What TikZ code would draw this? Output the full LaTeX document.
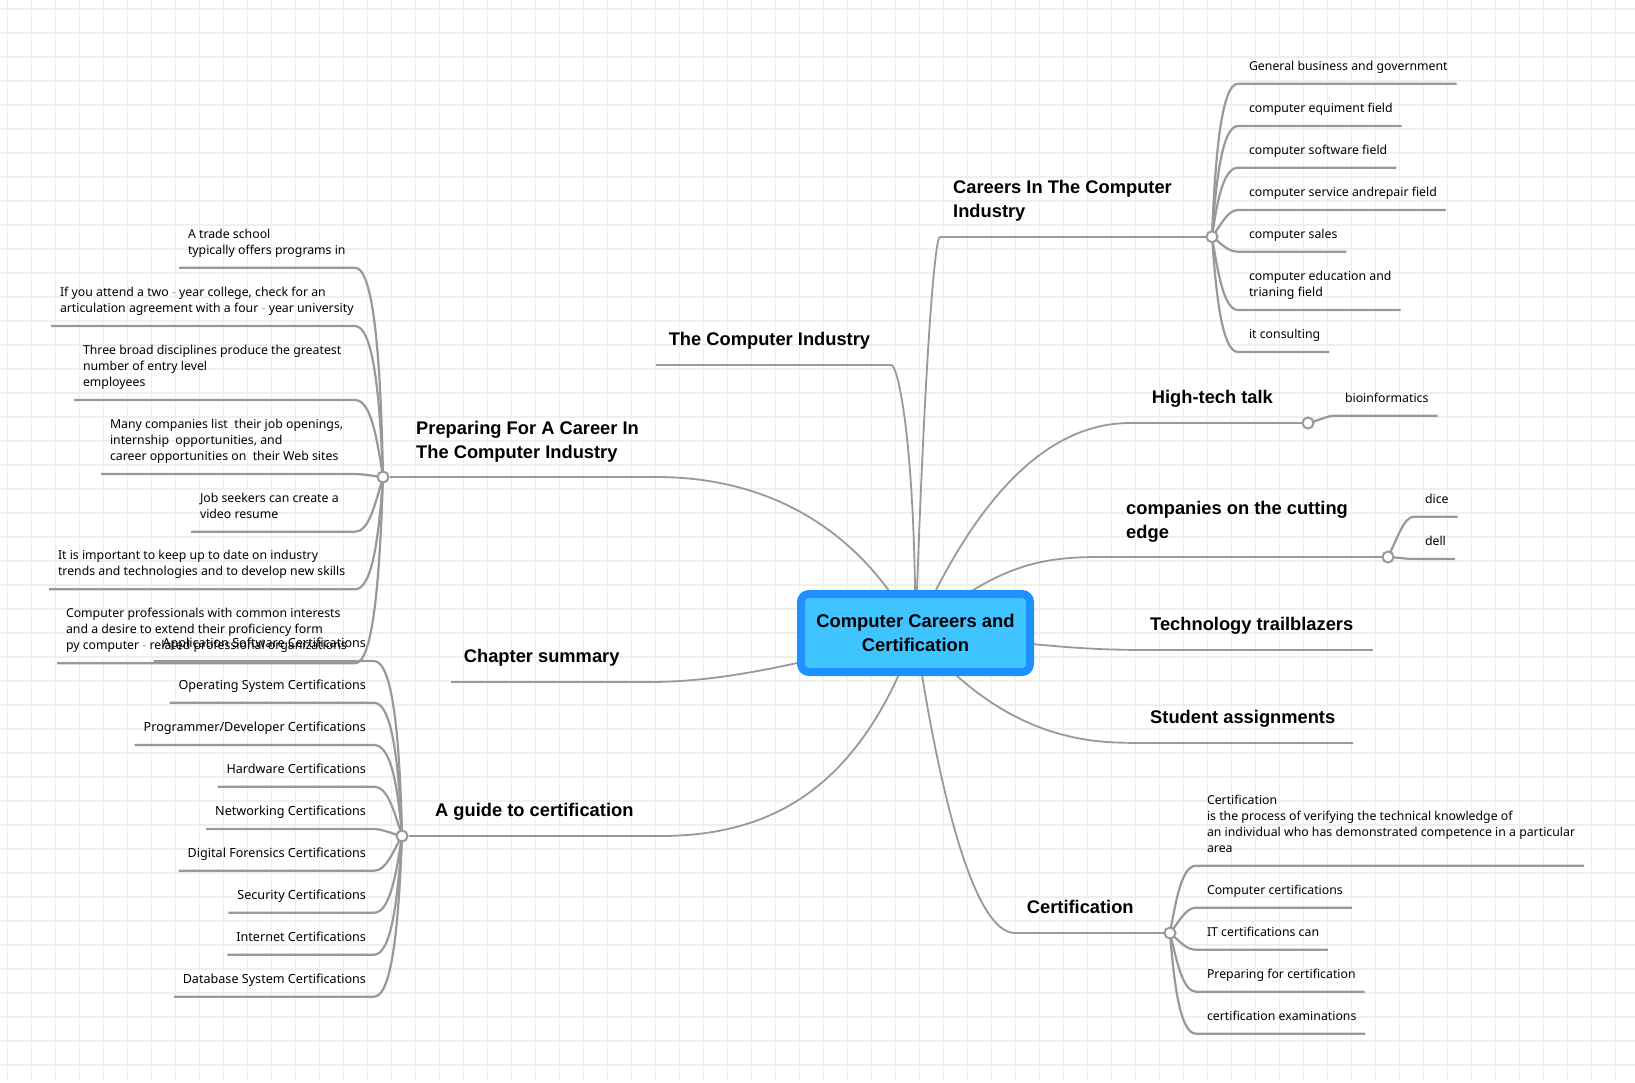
\documentclass[tikz,border=0pt]{standalone}
\usepackage{fontspec}
\setmainfont{Noto Sans}
\newfontfamily\titlefont{Liberation Sans}[BoldFont={Liberation Sans Bold}]
\usetikzlibrary{calc,backgrounds}
\definecolor{branchgray}{HTML}{999999}
\definecolor{gridgreen}{HTML}{EEF1E8}
\definecolor{rootfill}{HTML}{40C4FF}
\definecolor{rootline}{HTML}{1E90FF}
\tikzset{
  root/.style={draw=rootline, fill=rootfill, line width=8pt, rounded corners=8pt,
    minimum width=229pt, minimum height=78pt, inner sep=0pt, align=center,
    font=\titlefont\bfseries\fontsize{18.4}{24}\selectfont},
  title/.style={anchor=south west, inner sep=0pt, align=left, text depth=19.5pt,
    font=\titlefont\bfseries\fontsize{18.3}{24}\selectfont},
  titletwo/.style={title, text depth=18.6pt},
  leaf/.style={anchor=south west, inner xsep=9pt, inner ysep=0pt, outer sep=0pt, align=left,
    text depth=13.5pt, font=\fontsize{12.3}{16}\selectfont},
  leafl/.style={leaf, anchor=south east, font=\fontsize{12.6}{16}\selectfont},
  hub/.style={circle, draw=branchgray, fill=white, line width=2pt, minimum size=11pt, inner sep=0pt},
  branch/.style={draw=branchgray, line width=1.8pt},
  under/.style={draw=branchgray, line width=2.2pt},
  twig/.style={draw=branchgray, line width=2.2pt}
}
\newcommand{\dash}{\textcolor{black!40}{-}}
\newcommand{\twigr}[3][4]{\draw[twig] (#2.center) .. controls ($(#2.center)!0.5!(#2.center |- #3.south west)+(#1,0)$) and ($(#2.center |- #3.south west)+(#1+6,0)$) .. ($(#2.center |- #3.south west)+(26,0)$) -- (#3.south east);}
\newcommand{\twigl}[3][4]{\draw[twig] (#2.center) .. controls ($(#2.center)!0.5!(#2.center |- #3.south west)+(-#1,0)$) and ($(#2.center |- #3.south west)+(-#1-6,0)$) .. ($(#2.center |- #3.south west)+(-28,0)$) -- (#3.south west);}
\begin{document}
\begin{tikzpicture}[x=1pt, y=-1pt]
  \useasboundingbox (0,0) rectangle (1635,1082);

  \node[root] (root) at (915.5, 633) {Computer Careers and\\Certification};

  % right side
  \node[titletwo] (careers) at (953, 236.7) {Careers In The Computer\\Industry};
  \node[title] (hightech) at (1151.7, 423) {High-tech talk};
  \node[titletwo] (companies) at (1126, 557) {companies on the cutting\\edge};
  \node[title] (tech) at (1150, 649.7) {Technology trailblazers};
  \node[title] (student) at (1150, 742.7) {Student assignments};
  \node[title] (cert) at (1026.7, 933) {Certification};

  % left side
  \node[title] (industry) at (668.6, 364.7) {The Computer Industry};
  \node[titletwo] (prep) at (416, 477) {Preparing For A Career In\\The Computer Industry};
  \node[title] (summary) at (463.7, 682) {Chapter summary};
  \node[title] (guide) at (435, 836) {A guide to certification};

  \node[hub] (careershub) at (1212, 236.7) {};
  \node[hub] (hightechhub) at (1308, 423) {};
  \node[hub] (companieshub) at (1388, 557) {};
  \node[hub] (certhub) at (1170, 933) {};
  \node[hub] (prephub) at (383, 477) {};
  \node[hub] (guidehub) at (402, 836) {};

  \coordinate (careers0) at (940, 236.7);
  \coordinate (hightech0) at (1130, 423);
  \coordinate (companies0) at (1100, 557);
  \coordinate (tech0) at (1126.7, 649.7);
  \coordinate (tech1) at (1372.7, 649.7);
  \coordinate (student0) at (1126.7, 742.7);
  \coordinate (student1) at (1353.3, 742.7);
  \coordinate (cert0) at (1015, 933);
  \coordinate (industry0) at (891, 364.7);
  \coordinate (industry1) at (656, 364.7);
  \coordinate (prep0) at (656.7, 477);
  \coordinate (summary0) at (650, 682);
  \coordinate (summary1) at (451, 682);
  \coordinate (guide0) at (660, 836);

  \node[leaf] (business) at (1240, 83.7) {General business and government};
  \node[leaf] (equiment) at (1240, 126) {computer equiment field};
  \node[leaf] (software) at (1240, 167.7) {computer software field};
  \node[leaf] (service) at (1240, 210) {computer service andrepair field};
  \node[leaf] (sales) at (1240, 251.7) {computer sales};
  \node[leaf] (education) at (1240, 310) {computer education and\\trianing field};
  \node[leaf] (consulting) at (1240, 352) {it consulting};

  \node[leaf] (bio) at (1336, 415.7) {bioinformatics};
  \node[leaf] (dice) at (1416, 516.7) {dice};
  \node[leaf] (dell) at (1416, 559) {dell};

  \node[leaf] (process) at (1198, 865.7) {Certification\\is the process of verifying the technical knowledge of\\an individual who has demonstrated competence in a particular\\area};
  \node[leaf] (computercert) at (1198, 907.7) {Computer certifications};
  \node[leaf] (itcert) at (1198, 949.7) {IT certifications can};
  \node[leaf] (prepcert) at (1198, 991.7) {Preparing for certification};
  \node[leaf] (exams) at (1198, 1033.7) {certification examinations};

  \node[leaf] (trade) at (179, 267.7) {A trade school\\typically offers programs in};
  \node[leaf] (college) at (51, 326) {If you attend a two \dash{} year college, check for an\\articulation agreement with a four \dash{} year university};
  \node[leaf] (broad) at (74, 400) {Three broad disciplines produce the greatest\\number of entry level\\employees};
  \node[leaf] (openings) at (101, 474) {Many companies list\ \ their job openings,\\internship\ \ opportunities, and\\career opportunities on\ \ their Web sites};
  \node[leaf] (seekers) at (191, 531.7) {Job seekers can create a\\video resume};
  \node[leaf] (uptodate) at (49, 589.3) {It is important to keep up to date on industry\\trends and technologies and to develop new skills};
  \node[leaf] (groups) at (57, 663.3) {Computer professionals with common interests\\and a desire to extend their proficiency form\\py computer \dash{} related professional organizations};

  \node[leafl] (appcert) at (375, 661) {Application Software Certifications};
  \node[leafl] (oscert) at (375, 702.7) {Operating System Certifications};
  \node[leafl] (devcert) at (375, 745) {Programmer/Developer Certifications};
  \node[leafl] (hwcert) at (375, 786.7) {Hardware Certifications};
  \node[leafl] (netcert) at (375, 829) {Networking Certifications};
  \node[leafl] (forcert) at (375, 870.7) {Digital Forensics Certifications};
  \node[leafl] (seccert) at (375, 912.7) {Security Certifications};
  \node[leafl] (netscert) at (375, 954.7) {Internet Certifications};
  \node[leafl] (dbcert) at (375, 996.7) {Database System Certifications};

  \begin{scope}[on background layer]
    \fill[white] (0,0) rectangle (1635,1082);
    \foreach \i in {0,...,68}
      \draw[gridgreen, line width=1.1pt] ({7.3+24*\i},0) -- ({7.3+24*\i},1082);
    \foreach \i in {0,...,45}
      \draw[gridgreen, line width=1.1pt] (0,{9+24*\i}) -- (1635,{9+24*\i});

    \draw[branch] (root.center) .. controls (925,350) and (935,236.7) .. (careers0);
    \draw[under] (careers0) -- (careershub);
    \draw[branch] (root.center) .. controls (970,510) and (1040,423) .. (hightech0);
    \draw[under] (hightech0) -- (hightechhub);
    \draw[branch] (root.center) .. controls (995,565) and (1040,557) .. (companies0);
    \draw[under] (companies0) -- (companieshub);
    \draw[branch] (root.center) .. controls (1000,640) and (1070,649.7) .. (tech0);
    \draw[under] (tech0) -- (tech1);
    \draw[branch] (root.center) .. controls (982,712) and (1050,742.7) .. (student0);
    \draw[under] (student0) -- (student1);
    \draw[branch] (root.center) .. controls (940,800) and (975,933) .. (cert0);
    \draw[under] (cert0) -- (certhub);
    \draw[branch] (root.center) .. controls (915,440) and (898,364.7) .. (industry0);
    \draw[under] (industry0) -- (industry1);
    \draw[branch] (root.center) .. controls (850,510) and (745,477) .. (prep0);
    \draw[under] (prep0) -- (prephub);
    \draw[branch] (root.center) .. controls (800,665) and (720,682) .. (summary0);
    \draw[under] (summary0) -- (summary1);
    \draw[branch] (root.center) .. controls (860,790) and (770,836) .. (guide0);
    \draw[under] (guide0) -- (guidehub);

    \twigr[3]{careershub}{business}
    \twigr{careershub}{equiment}
    \twigr[5]{careershub}{software}
    \twigr[10]{careershub}{service}
    \twigr[10]{careershub}{sales}
    \twigr[6]{careershub}{education}
    \twigr{careershub}{consulting}

    \twigr[14]{hightechhub}{bio}
    \twigr[10]{companieshub}{dice}
    \twigr[14]{companieshub}{dell}

    \twigr[6]{certhub}{process}
    \twigr[10]{certhub}{computercert}
    \twigr[10]{certhub}{itcert}
    \twigr[7]{certhub}{prepcert}
    \twigr{certhub}{exams}

    \twigl[2]{prephub}{trade}
    \twigl[3]{prephub}{college}
    \twigl[6]{prephub}{broad}
    \twigl[14]{prephub}{openings}
    \twigl[8]{prephub}{seekers}
    \twigl{prephub}{uptodate}
    \twigl[3]{prephub}{groups}

    \twigl[2]{guidehub}{appcert}
    \twigl[3]{guidehub}{oscert}
    \twigl{guidehub}{devcert}
    \twigl[8]{guidehub}{hwcert}
    \twigl[14]{guidehub}{netcert}
    \twigl[10]{guidehub}{forcert}
    \twigl[6]{guidehub}{seccert}
    \twigl{guidehub}{netscert}
    \twigl[3]{guidehub}{dbcert}
  \end{scope}
\end{tikzpicture}
\end{document}
